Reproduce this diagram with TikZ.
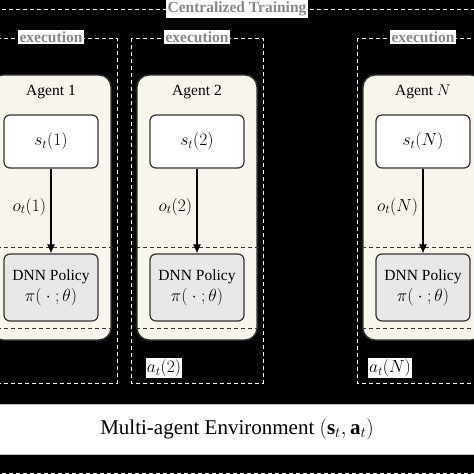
\RequirePackage{fix-cm}
\documentclass[tikz,border=0pt]{standalone}
\usepackage{fontspec}
\setmainfont{Liberation Serif}
\usepackage{amsmath, amssymb}
\usetikzlibrary{arrows.meta, positioning, calc}
\definecolor{AgentCream}{RGB}{248,245,236}
\definecolor{PolicyGray}{RGB}{232,232,232}
\definecolor{EdgeDark}{RGB}{50,50,50}
\definecolor{LabelGray}{RGB}{135,135,135}
\newcommand{\basesize}{\fontsize{15.5pt}{19pt}\selectfont}
\newcommand{\mathsize}{\fontsize{17.5pt}{20pt}\selectfont}
\tikzset{
	whitedash/.style={white, line width=0.9pt, dash pattern=on 4pt off 3pt},
	innerdash/.style={EdgeDark, line width=0.9pt, dash pattern=on 4pt off 3pt},
	agentbox/.style={draw=EdgeDark, line width=1.4pt, fill=AgentCream, rounded corners=12pt,
		minimum width=120pt, minimum height=265pt},
	statebox/.style={draw=EdgeDark, line width=1.2pt, fill=white, rounded corners=6pt,
		minimum width=94pt, minimum height=53pt, font=\mathsize},
	policybox/.style={draw=EdgeDark, line width=1.2pt, fill=PolicyGray, rounded corners=6pt,
		minimum width=94pt, minimum height=67pt, align=center, inner sep=1pt},
	framelabel/.style={fill=white, text=LabelGray, font=\basesize\bfseries, inner sep=1.5pt},
	actlabel/.style={fill=white, inner sep=1pt, font=\mathsize}
}
\begin{document}
\begin{tikzpicture}[x=1pt, y=-1pt, font=\basesize]
	\fill[black] (0,0) rectangle (474,474);
	\useasboundingbox (0,0) rectangle (474,474);
	\clip (0,0) rectangle (474,474);

	% marco del entrenamiento centralizado
	\draw[whitedash] (-5,9) -- (480,9);
	\draw[whitedash] (-5,473) -- (480,473);
	\node[framelabel] (train) at (237,9) {Centralized Training};

	% agentes
	\foreach \i/\cx/\txt in {1/51/1, 2/197/2, N/423/$N$}{
		\draw[whitedash] (\cx-66,38) rectangle (\cx+66,383);
		\node[framelabel] (exec\i) at (\cx,37) {execution};

		\node[agentbox] (a\i) at (\cx,207.5) {};
		\node[below=7pt of a\i.north] (name\i) {Agent \txt};
		\draw[innerdash] ($(a\i.west)+(0,39.5)$) -- ($(a\i.east)+(3,39.5)$);
		\draw[innerdash] ($(a\i.west)+(0,120.5)$) -- ($(a\i.east)+(0,120.5)$);

		\node[statebox] (s\i) at (\cx,141.5) {$s_t(\i)$};
		\node[policybox] (p\i) at (\cx,287.5) {DNN Policy\\[2pt]{\mathsize$\pi(\ \cdot\ ;\theta)$}};
		\draw[black, line width=1.1pt, -{Latex[length=9pt, width=8pt]}] (s\i) -- (p\i.north)
			node[pos=0.45, left=1pt, font=\mathsize] (o\i) {$o_t(\i)$};
	}

	% acciones
	\node[actlabel] (act2) at (164,368) {$a_t(2)$};
	\node[actlabel] (actN) at (390,368) {$a_t(N)$};

	% entorno
	\node[draw=gray!50, line width=0.8pt, fill=white, minimum width=480pt, minimum height=50pt,
		font=\fontsize{21pt}{24pt}\selectfont] (env) at (237,429)
		{Multi-agent Environment $(\mathbf{s}_t,\mathbf{a}_t)$};
\end{tikzpicture}
\end{document}
